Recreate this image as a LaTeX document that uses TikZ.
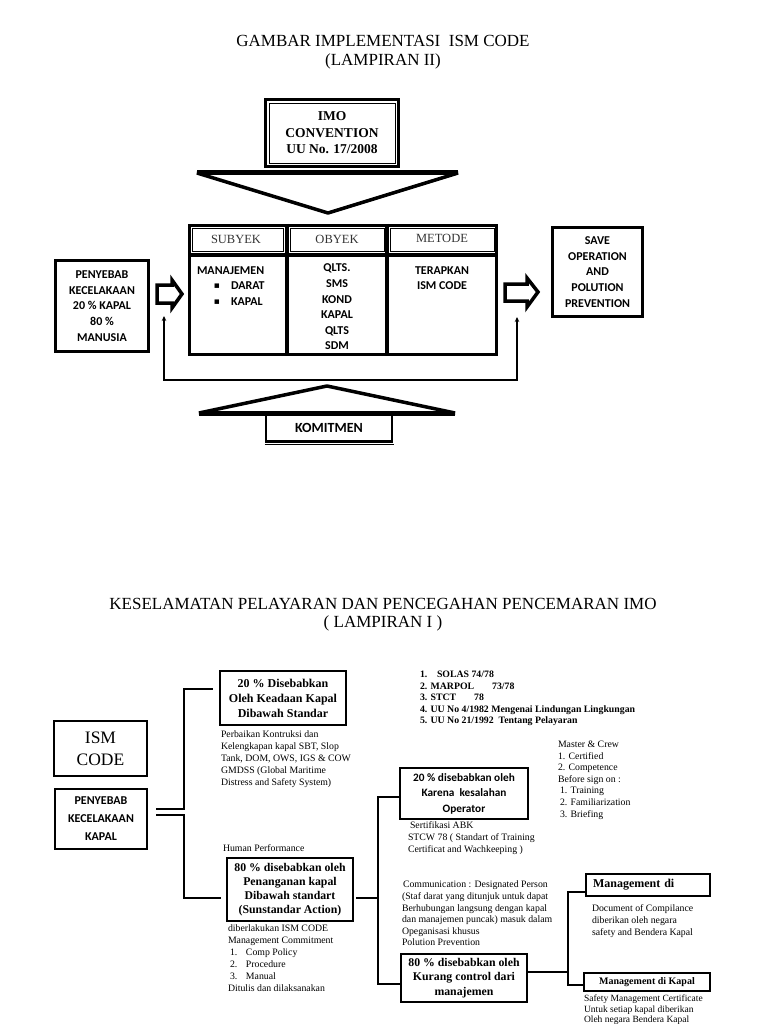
\documentclass[tikz,border=0pt]{standalone}
\usepackage{fontspec}
\setmainfont{Liberation Serif}
\newfontfamily\calfont{Carlito}
\newfontfamily\djvfont{DejaVu Sans}
\usetikzlibrary{arrows.meta}
\newcommand\fs[2]{\fontsize{#1}{#2}\selectfont}
\begin{document}
\begin{tikzpicture}[x=1pt,y=1pt,
  every node/.style={inner sep=0pt, outer sep=0pt},
  sansb/.style={font=\calfont\bfseries\fs{12}{15.6}, align=center},
  hdr/.style={font=\fs{12.5}{15}, text=black!80},
  conn/.style={line width=2pt, line join=miter},
  small/.style={font=\fs{9.8}{11.8}, align=left, anchor=north west},
  smallb/.style={font=\bfseries\fs{9.8}{11.6}, align=left, anchor=north west},
  blockarrow/.style={line width=3.5pt, line join=miter, fill=white},
  tri/.style={line width=3.5pt, line join=bevel, fill=white}
]
\useasboundingbox (0,0) rectangle (768,-1024);
\clip (0,0) rectangle (768,-1024);

% ---------------- Upper diagram ----------------
\node[font=\fs{17}{19}, align=center] (t1) at (383,-52) {GAMBAR IMPLEMENTASI\ \ ISM CODE\\(LAMPIRAN II)};

\node[draw, line width=3pt, minimum width=133, minimum height=67,
      font=\bfseries\fs{13.5}{16.5}, align=center] (imo) at (332,-133)
      {IMO\\CONVENTION\\UU No. 17/2008};
\draw[line width=0.8pt] ([shift={(3.5,-3.5)}]imo.north west) rectangle ([shift={(-3.5,3.5)}]imo.south east);

% down triangle
\draw[tri] (197,-173) -- (458,-173) -- (328,-213) -- cycle;
\draw[line width=5pt] (197,-173) -- (458,-173);

% table
\node[draw, line width=3pt, minimum width=307, minimum height=129] (tbl) at (343,-290) {};
\draw[line width=0.7pt] (192,-228) rectangle (283,-251);
\draw[line width=0.7pt] (290,-228) rectangle (384,-251);
\draw[line width=0.7pt] (390.5,-228) rectangle (494,-251);
\draw[line width=4.5pt] (tbl.west |- 0,-255) -- (tbl.east |- 0,-255);
\draw[line width=4pt] (286.5,-224) -- (286.5,-356);
\draw[line width=4pt] (387,-224) -- (387,-356);

\node[hdr] (hsub) at (236,-239) {SUBYEK};
\node[hdr] (hoby) at (337,-239) {OBYEK};
\node[hdr] (hmet) at (442,-238) {METODE};

\node[sansb, anchor=west] (manaj) at (197,-271) {MANAJEMEN};
\node[font=\djvfont\fs{9}{10}] (bul1) at (217,-286) {▪};
\node[font=\djvfont\fs{9}{10}] (bul2) at (217,-302) {▪};
\node[sansb, anchor=west] (darat) at (231,-286) {DARAT};
\node[sansb, anchor=west] (kapal) at (231,-302) {KAPAL};

\node[sansb] (obyektxt) at (337,-307) {QLTS.\\SMS\\KOND\\KAPAL\\QLTS\\SDM};
\node[sansb] (metodetxt) at (442,-278) {TERAPKAN\\ISM CODE};

% left cause box
\node[draw, line width=3pt, minimum width=93, minimum height=91, sansb] (peny) at (102,-306)
  {PENYEBAB\\KECELAKAAN\\20 \%\ KAPAL\\80 \%\\MANUSIA};

% block arrows
\draw[blockarrow] (157,-285) -- (172,-285) -- (172,-280) -- (182,-294) -- (172,-308) -- (172,-303) -- (157,-303) -- cycle;
\draw[blockarrow] (505,-284) -- (527,-284) -- (527,-278) -- (538,-292) -- (527,-307) -- (527,-301) -- (505,-301) -- cycle;

% result box
\node[draw, line width=3.5pt, minimum width=90, minimum height=89, sansb] (save) at (597.5,-272)
  {SAVE\\OPERATION\\AND\\POLUTION\\PREVENTION};

% feedback loop
\coordinate (fbL) at (164,-316);
\coordinate (fbR) at (517,-317);
\coordinate (fbBL) at (164,-380);
\coordinate (fbBR) at (517,-380);
\draw[line width=1.2pt, {Stealth[length=5pt,width=4.5pt]}-{Stealth[length=5pt,width=4.5pt]}]
  (fbL) -- (fbBL) -- (fbBR) -- (fbR);

% commitment
\node[draw, line width=2.5pt, minimum width=126, minimum height=27,
      font=\calfont\bfseries\fs{14}{16}] (kom) at (329,-428) {KOMITMEN};
\draw[line width=0.8pt] ([shift={(-1.5,-3)}]kom.south west) -- ([shift={(1.5,-3)}]kom.south east);
\draw[tri] (199,-413) -- (327,-386) -- (455,-413) -- cycle;
\draw[line width=5pt] (199,-413) -- (455,-413);

% ---------------- Lower diagram ----------------
\node[font=\fs{17}{18}, align=center] (t2) at (383,-615)
  {KESELAMATAN PELAYARAN DAN PENCEGAHAN PENCEMARAN IMO\\( LAMPIRAN I )};

\node[draw, line width=2pt, minimum width=93, minimum height=55,
      font=\fs{17.5}{22}, align=center] (ism) at (100.5,-748.5) {ISM\\CODE};
\node[draw, line width=2pt, minimum width=92, minimum height=60,
      font=\calfont\bfseries\fs{12}{18}, align=center] (peny2) at (101,-819)
      {PENYEBAB\\KECELAKAAN\\KAPAL};

\node[draw, line width=2pt, minimum width=126, minimum height=54,
      font=\bfseries\fs{12}{15}, align=center] (b20a) at (283,-698)
      {20 \%\ Disebabkan\\Oleh Keadaan Kapal\\Dibawah Standar};
\node[small] (perb) at (221,-731)
  {Perbaikan Kontruksi dan\\Kelengkapan kapal SBT, Slop\\Tank, DOM, OWS, IGS \& COW\\GMDSS (Global Maritime\\Distress and Safety System)};

\node[small] (hp) at (223,-845) {Human Performance};
\node[draw, line width=2.5pt, minimum width=126, minimum height=63,
      font=\bfseries\fs{11.8}{14}, align=center] (b80a) at (290,-889.5)
      {80 \%\ disebabkan oleh\\Penanganan kapal\\Dibawah standart\\(Sunstandar Action)};
\node[small, font=\fs{9.8}{12}] (dib) at (228,-925)
  {diberlakukan ISM CODE\\Management Commitment\\
   \hspace*{2pt}\makebox[16pt][l]{1.}Comp Policy\\
   \hspace*{2pt}\makebox[16pt][l]{2.}Procedure\\
   \hspace*{2pt}\makebox[16pt][l]{3.}Manual\\
   Ditulis dan dilaksanakan};

\node[smallb] (sol) at (420,-671)
  {\makebox[17pt][l]{1.}SOLAS 74/78\\
   2. MARPOL\hspace{18pt}73/78\\
   3. STCT\hspace{18pt}78\\
   4. UU No 4/1982 Mengenai Lindungan Lingkungan\\
   5. UU No 21/1992\ \ Tentang Pelayaran};

\node[small, font=\fs{9.8}{11.6}] (mc) at (558,-741)
  {Master \& Crew\\1. Certified\\2. Competence\\Before sign on :\\
   \hspace*{2pt}1. Training\\\hspace*{2pt}2. Familiarization\\\hspace*{2pt}3. Briefing};

\node[draw, line width=2pt, minimum width=128, minimum height=51,
      font=\calfont\bfseries\fs{11.3}{15.5}, align=center] (bop) at (464,-793.5)
      {20 \%\ disebabkan oleh\\Karena\ \ kesalahan\\Operator};
\node[small, font=\fs{9.8}{12}] (sert) at (408,-822)
  {\hspace*{2pt}Sertifikasi ABK\\STCW 78 ( Standart of Training\\Certificat and Wachkeeping )};

\node[small, font=\fs{9.8}{11.6}] (comm) at (402,-881)
  {\hspace*{1pt}Communication : Designated Person\\(Staf darat yang ditunjuk untuk dapat\\Berhubungan langsung dengan kapal\\dan manajemen puncak) masuk dalam\\Opeganisasi khusus\\Polution Prevention};

\node[draw, line width=2.5pt, minimum width=126, minimum height=48,
      font=\bfseries\fs{11.8}{14.5}, align=center] (b80b) at (464,-978)
      {80 \%\ disebabkan oleh\\Kurang control dari\\manajemen};

\node[draw, line width=2pt, minimum width=124, minimum height=22,
      font=\bfseries\fs{12}{14}, text width=110, align=left] (mdi) at (648,-885) {Management di};
\node[small] (doc) at (592,-905)
  {Document of Compilance\\diberikan oleh negara\\safety and Bendera Kapal};

\node[draw, line width=2pt, minimum width=126, minimum height=18,
      font=\bfseries\fs{10}{12}] (mkp) at (647,-982) {Management di Kapal};
\node[small, font=\fs{9.5}{10.8}] (saf) at (584,-994.5)
  {Safety Management Certificate\\Untuk setiap kapal diberikan\\Oleh negara Bendera Kapal};

% connectors
\coordinate (j1) at (184,-809);
\coordinate (j2) at (184,-815);
\draw[conn, shorten >=7pt] ([shift={(9,10)}]peny2.east) -- (j1) |- ([yshift=9]b20a.west);
\draw[conn, shorten >=6pt] ([shift={(9,4)}]peny2.east) -- (j2) |- ([yshift=-8.5]b80a.west);

\coordinate (trunk) at (378,-898);
\draw[conn] ([shift={(3,-8.5)}]b80a.east) -- (trunk);
\draw[conn] ([yshift=-3.5]bop.west) -| (trunk) |- ([yshift=-6]b80b.west);

\coordinate (trunk2) at (568,-972);
\draw[conn] ([yshift=6]b80b.east) -- (trunk2);
\draw[conn] ([yshift=-7]mdi.west) -| (trunk2) |- ([yshift=-3]mkp.west);
\end{tikzpicture}
\end{document}
